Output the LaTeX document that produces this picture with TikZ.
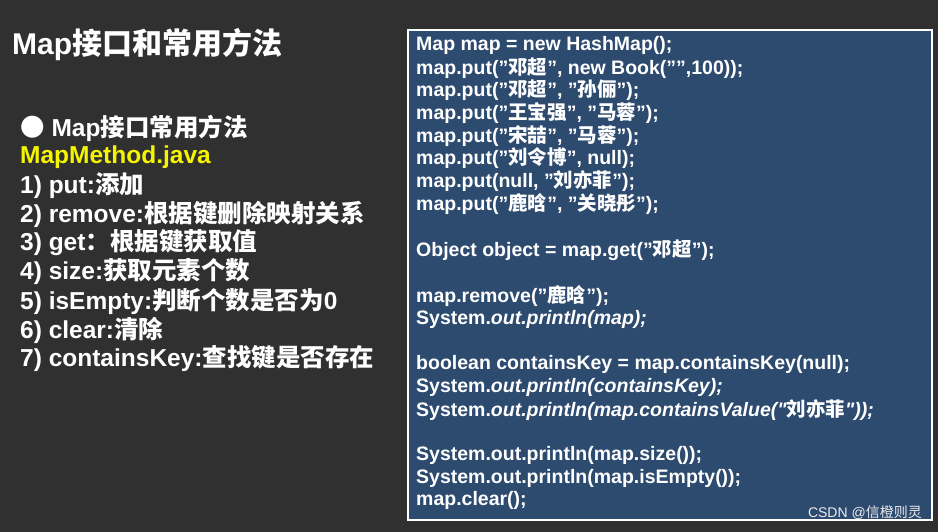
\documentclass[tikz,border=0pt]{standalone}
\usepackage{fontspec}
\setmainfont{Liberation Sans}[Ligatures=ResetAll]
\newfontfamily\cjkf{Noto Sans CJK SC Bold}[Ligatures=ResetAll]
\newfontfamily\cjkr{Noto Sans CJK SC}
\newfontfamily\slfont{Liberation Sans Bold Italic}[Ligatures=ResetAll]
\newcommand{\cj}[1]{{\cjkf #1}}
\newcommand{\slt}[1]{{\slfont #1}}
\definecolor{bg}{HTML}{303030}
\definecolor{boxc}{HTML}{2D4A6F}
\definecolor{ylw}{HTML}{F5F500}
\begin{document}
\begin{tikzpicture}[x=1pt,y=-1pt,
  lt/.style={anchor=west,text=white,font=\bfseries\fontsize{24.5}{24.5}\selectfont,inner sep=0},
  cd/.style={anchor=west,text=white,font=\bfseries\fontsize{19.5}{19.5}\selectfont,inner sep=0}]
\fill[bg] (0,0) rectangle (938,532);
\useasboundingbox (0,0) rectangle (938,532);
\node[lt,font=\bfseries\fontsize{30}{30}\selectfont] (t) at (12,45) {Map\cj{接口和常用方法}};
\node[lt] (l0) at (20,128) {{\cjkf ●} Map\cj{接口常用方法}};
\node[lt,text=ylw] (l1) at (20,157) {MapMethod.java};
\node[lt] (l2) at (20,186) {1) put:\cj{添加}};
\node[lt] (l3) at (20,214) {2) remove:\cj{根据键删除映射关系}};
\node[lt] (l4) at (20,243) {3) get\cj{：根据键获取值}};
\node[lt] (l5) at (20,272) {4) size:\cj{获取元素个数}};
\node[lt] (l6) at (20,301) {5) isEmpty:\cj{判断个数是否为}0};
\node[lt] (l7) at (20,330) {6) clear:\cj{清除}};
\node[lt] (l8) at (20,359) {7) containsKey:\cj{查找键是否存在}};
\draw[white,line width=1.2,fill=boxc] (408,30) rectangle (932,520);
\node[cd] (c1) at (416,45) {Map map = new HashMap();};
\node[cd] (c2) at (416,68) {map.put("\cj{邓超}", new Book("",100));};
\node[cd] (c3) at (416,90) {map.put("\cj{邓超}", "\cj{孙俪}");};
\node[cd] (c4) at (416,113) {map.put("\cj{王宝强}", "\cj{马蓉}");};
\node[cd] (c5) at (416,136) {map.put("\cj{宋喆}", "\cj{马蓉}");};
\node[cd] (c6) at (416,158) {map.put("\cj{刘令博}", null);};
\node[cd] (c7) at (416,181) {map.put(null, "\cj{刘亦菲}");};
\node[cd] (c8) at (416,204) {map.put("\cj{鹿晗}", "\cj{关晓彤}");};
\node[cd] (c9) at (416,250) {Object object = map.get("\cj{邓超}");};
\node[cd] (c10) at (416,296) {map.remove("\cj{鹿晗}");};
\node[cd] (c11) at (416,319) {System.\slt{out.println(map);}};
\node[cd] (c12) at (416,364) {boolean containsKey = map.containsKey(null);};
\node[cd] (c13) at (416,387) {System.\slt{out.println(containsKey);}};
\node[cd] (c14) at (416,410) {System.\slt{out.println(map.containsValue("\cj{刘亦菲}"));}};
\node[cd] (c15) at (416,455) {System.out.println(map.size());};
\node[cd] (c16) at (416,478) {System.out.println(map.isEmpty());};
\node[cd] (c17) at (416,500) {map.clear();};
\node[anchor=east,text=white!85!gray,font=\fontsize{14}{14}\selectfont,inner sep=0] (wm) at (922,513) {CSDN @{\cjkr 信橙则灵}};
\end{tikzpicture}
\end{document}
